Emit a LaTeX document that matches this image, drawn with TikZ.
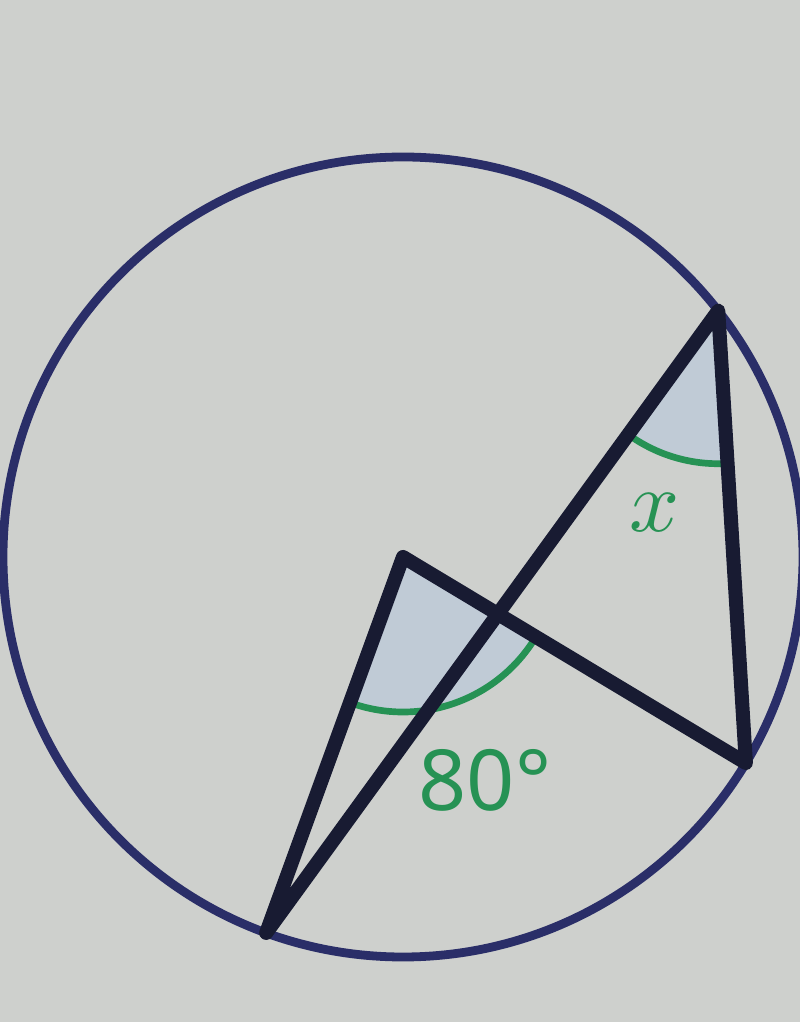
\documentclass[tikz,border=0pt]{standalone}
\usepackage{fontspec}
\usepackage{amsmath}
\usetikzlibrary{calc}
\newfontfamily\labelfont{Noto Sans}
\definecolor{bggray}{RGB}{206,208,205}
\definecolor{rimblue}{RGB}{42,46,104}
\definecolor{chordblack}{RGB}{24,27,50}
\definecolor{markgreen}{RGB}{38,146,84}
\definecolor{shadeblue}{RGB}{192,203,214}

\begin{document}
\begin{tikzpicture}[
        rim_style/.style={draw=rimblue, line width=5pt},
        chord_style/.style={draw=chordblack, line width=8pt, line join=round, line cap=round},
        shade_style/.style={fill=shadeblue},
        mark_style/.style={draw=markgreen, line width=3.8pt},
        label_style/.style={text=markgreen, inner sep=0pt}]

        \fill [bggray] (0,0) rectangle (16,20.44);
        \useasboundingbox (0,0) rectangle (16,20.44);

        \coordinate (o) at (8.06,9.3);
        \coordinate (a) at ($(o)+(38:8)$);
        \coordinate (b) at ($(o)+(-110:8)$);
        \coordinate (c) at ($(o)+(-31:8)$);

        % shaded angles
        \fill [shade_style] (o) -- ++(-110:3.1) arc[start angle=-110, end angle=-31, radius=3.1] -- cycle;
        \fill [shade_style] (a) -- ++(234:3.06) arc[start angle=234, end angle=273.5, radius=3.06] -- cycle;

        \draw [mark_style] ($(o)+(-110:3.1)$) arc[start angle=-110, end angle=-31, radius=3.1];
        \draw [mark_style] ($(a)+(234:3.06)$) arc[start angle=234, end angle=273.5, radius=3.06];

        \draw [rim_style] (o) circle (8);

        \draw [chord_style] (b) -- (o) -- (c) -- (a) -- (b);

        \node [label_style, font=\fontsize{48}{56}\selectfont\labelfont] (deg) at (9.7,4.84) {80°};
        \node [label_style, scale=5] (ang) at (13.1,10.18) {$x$};

        \end{tikzpicture}
\end{document}
